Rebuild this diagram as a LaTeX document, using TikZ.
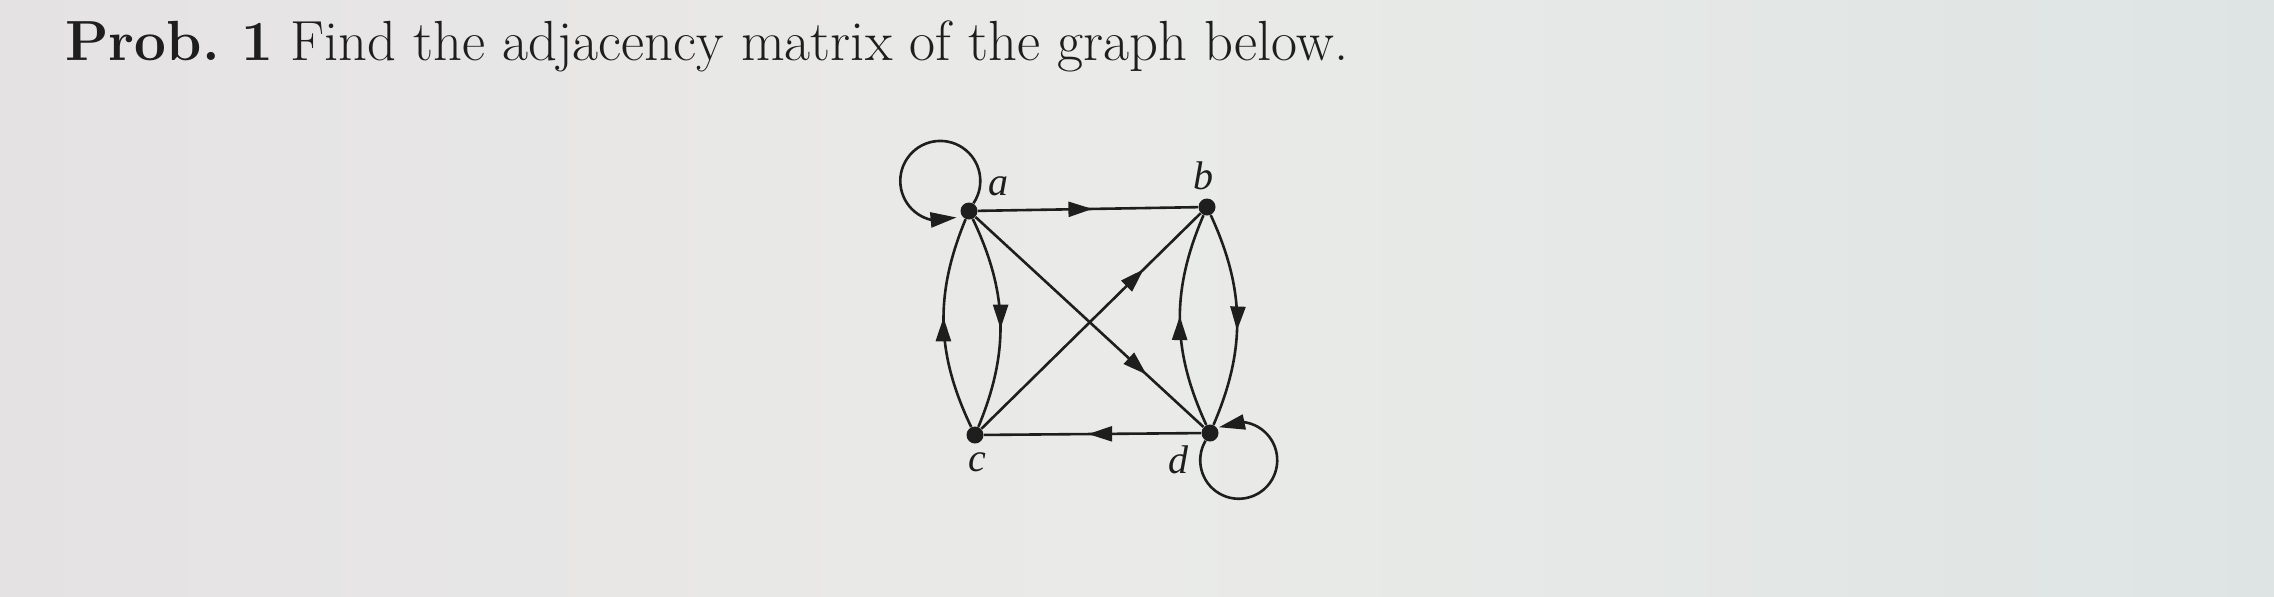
\documentclass[tikz,border=0pt]{standalone}
\usepackage{fontspec}
\newfontfamily\lblfont{Liberation Serif}
\usetikzlibrary{arrows.meta,decorations.markings,bending}
\definecolor{ink}{RGB}{30,30,30}
\definecolor{bgl}{RGB}{229,226,228}
\definecolor{bgm}{RGB}{234,235,232}
\definecolor{bgr}{RGB}{222,228,228}
\tikzset{
  vtx/.style={circle,fill=ink,inner sep=0pt,minimum size=8.5pt},
  edge/.style={line width=1.3pt,draw=ink},
  midarrow/.style={postaction={decorate},decoration={markings,
    mark=at position #1 with {\arrow{Triangle[length=12pt,width=7.5pt]}}}},
  looptip/.style={-{Triangle[length=13pt,width=7.5pt,flex]}},
  lbl/.style={font=\lblfont\itshape\fontsize{20}{22}\selectfont,text=ink}
}
\begin{document}
\begin{tikzpicture}[x=0.5pt,y=-0.5pt]
\useasboundingbox (0,0) rectangle (2274,596);
\shade[left color=bgl,right color=bgr,middle color=bgm] (0,0) rectangle (2274,596);
\node[anchor=base west,font=\fontsize{28.3}{32}\selectfont,text=ink,inner sep=0pt] (title) at (65,60)
  {\textbf{Prob.\ 1} Find the adjacency matrix of the graph below.};
% vertices
\node[vtx] (a) at (969,211) {};
\node[vtx] (b) at (1207,207) {};
\node[vtx] (c) at (975,435) {};
\node[vtx] (d) at (1210,433) {};
% labels
\node[lbl] (la) at (998,186) {a};
\node[lbl] (lb) at (1203,176) {b};
\node[lbl] (lc) at (977,462) {c};
\node[lbl] (ld) at (1178,460) {d};
% straight edges
\draw[edge,midarrow=0.52] (a) -- (b);
\draw[edge,midarrow=0.75] (a) -- (d);
\draw[edge,midarrow=0.74] (c) -- (b);
\draw[edge,midarrow=0.52] (d) -- (c);
% curved edges
\draw[edge,midarrow=0.53] (a) to[bend left=24] (c);
\draw[edge,midarrow=0.53] (c) to[bend left=24] (a);
\draw[edge,midarrow=0.55] (b) to[bend left=24] (d);
\draw[edge,midarrow=0.52] (d) to[bend left=24] (b);
% loops
\draw[edge,looptip] (a.60) arc[start angle=-34,end angle=294,radius=20pt];
\draw[edge,looptip] (d.240) arc[start angle=149.5,end angle=481,radius=19.25pt];
\end{tikzpicture}
\end{document}
